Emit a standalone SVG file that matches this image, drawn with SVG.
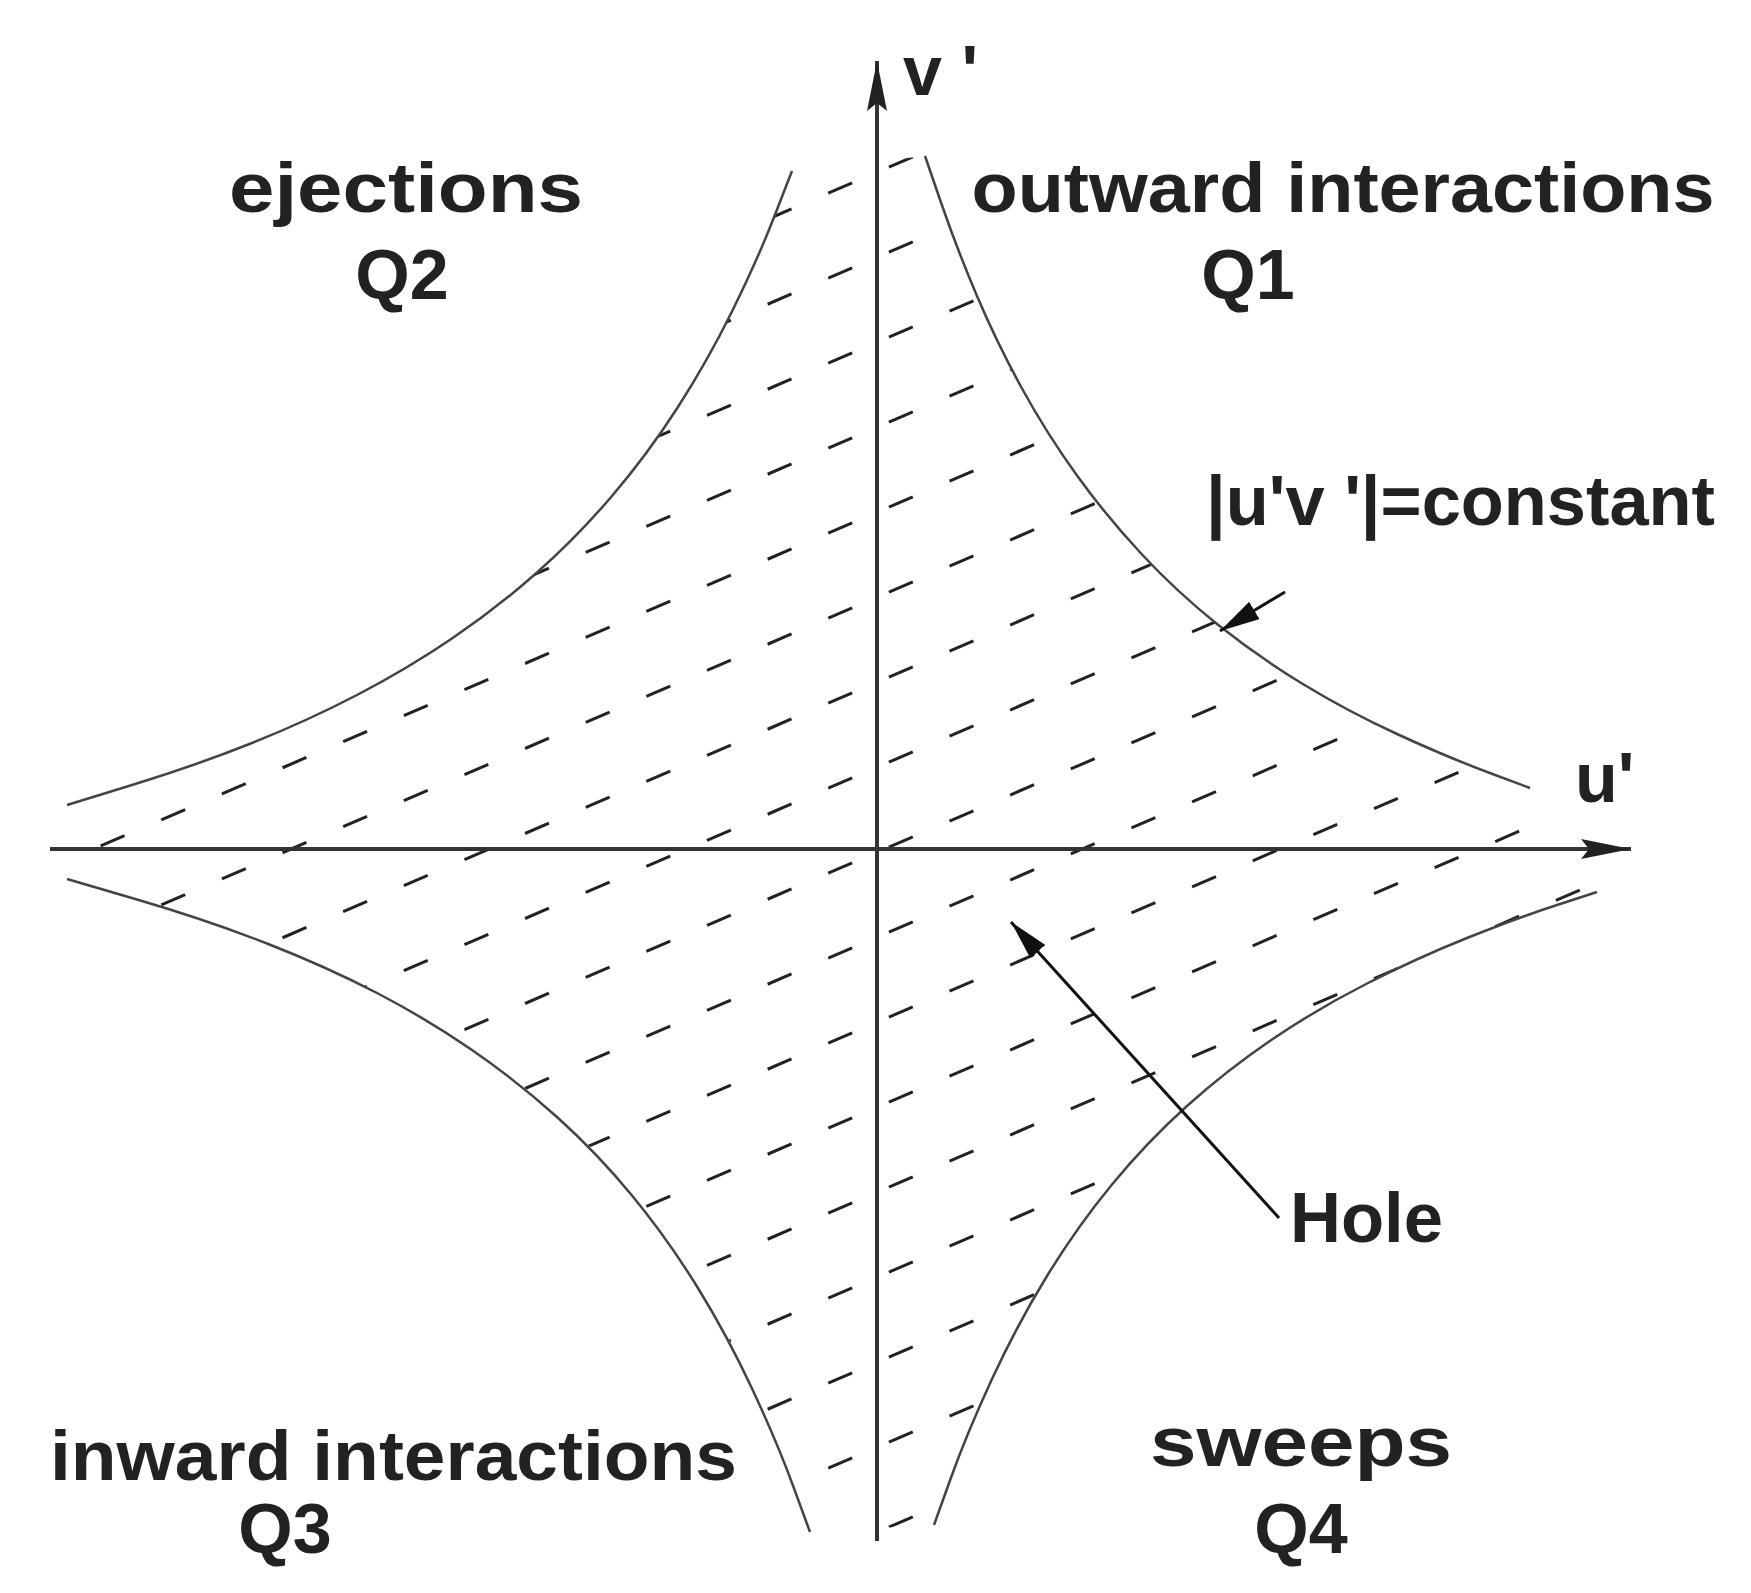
<svg xmlns="http://www.w3.org/2000/svg" width="1751" height="1593" viewBox="0 0 1751 1593">
<style>
.t{font-family:"Liberation Sans",Arial,sans-serif;font-weight:bold;font-size:70px;fill:#222}
.c{fill:none;stroke:#444;stroke-width:2.5;stroke-linejoin:round}
.d{stroke:#222;stroke-width:3;stroke-dasharray:26 40}
.ax{stroke:#333;stroke-width:4}
</style>
<defs>
<marker id="ah" viewBox="0 0 50 20" refX="50" refY="10" markerWidth="50" markerHeight="20" markerUnits="userSpaceOnUse" orient="auto"><path d="M0,0 L50,10 L0,20 L8,10 Z" fill="#222"/></marker>
<marker id="sh" viewBox="0 0 40 20" refX="40" refY="10" markerWidth="40" markerHeight="20" markerUnits="userSpaceOnUse" orient="auto"><path d="M0,0 L40,10 L0,20 Z" fill="#111"/></marker>
<clipPath id="hole"><path d="M925,156 L957,249 997,343 1047,434 1107,517 1177,592 1257,656 1347,711 1447,757 1530,788 L1597,892 1517,918 1417,958 1317,1009 1227,1070 1147,1142 1077,1227 1017,1325 967,1433 934,1525 L810,1532 777,1442 727,1335 667,1238 597,1153 517,1081 427,1019 327,967 207,920 67,879 L67,805 197,765 307,721 407,669 497,608 577,537 647,455 707,362 757,261 792,171 Z"/></clipPath>
</defs>
<rect width="1751" height="1593" fill="#fff"/>
<g id="hatch" clip-path="url(#hole)">
<line class="d" x1="40" y1="532" x2="1650" y2="-160"/>
<line class="d" x1="40" y1="617" x2="1650" y2="-75"/>
<line class="d" x1="40" y1="702" x2="1650" y2="10"/>
<line class="d" x1="40" y1="787" x2="1650" y2="95"/>
<line class="d" x1="40" y1="872" x2="1650" y2="180"/>
<line class="d" x1="40" y1="957" x2="1650" y2="265"/>
<line class="d" x1="40" y1="1042" x2="1650" y2="350"/>
<line class="d" x1="40" y1="1127" x2="1650" y2="435"/>
<line class="d" x1="40" y1="1212" x2="1650" y2="520"/>
<line class="d" x1="40" y1="1297" x2="1650" y2="605"/>
<line class="d" x1="40" y1="1382" x2="1650" y2="690"/>
<line class="d" x1="40" y1="1467" x2="1650" y2="775"/>
<line class="d" x1="40" y1="1552" x2="1650" y2="860"/>
<line class="d" x1="40" y1="1637" x2="1650" y2="945"/>
<line class="d" x1="40" y1="1722" x2="1650" y2="1030"/>
<line class="d" x1="40" y1="1807" x2="1650" y2="1115"/>
<line class="d" x1="40" y1="1892" x2="1650" y2="1200"/>
<line class="d" x1="40" y1="1977" x2="1650" y2="1285"/>
<line class="d" x1="40" y1="2062" x2="1650" y2="1370"/>
<line class="d" x1="40" y1="2147" x2="1650" y2="1455"/>
</g>
<g id="curves">
<path class="c" d="M925,156 L941,202.5 Q957,249 977,296 Q997,343 1022,388.5 Q1047,434 1077,475.5 Q1107,517 1142,554.5 Q1177,592 1217,624 Q1257,656 1302,683.5 Q1347,711 1397,734 Q1447,757 1488.5,772.5 L1530,788"/>
<path class="c" d="M792,171 L774.5,216 Q757,261 732,311.5 Q707,362 677,408.5 Q647,455 612,496 Q577,537 537,572.5 Q497,608 452,638.5 Q407,669 357,695 Q307,721 252,743 Q197,765 132,785 L67,805"/>
<path class="c" d="M810,1532 L793.5,1487 Q777,1442 752,1388.5 Q727,1335 697,1286.5 Q667,1238 632,1195.5 Q597,1153 557,1117 Q517,1081 472,1050 Q427,1019 377,993 Q327,967 267,943.5 Q207,920 137,899.5 L67,879"/>
<path class="c" d="M934,1525 L950.5,1479 Q967,1433 992,1379 Q1017,1325 1047,1276 Q1077,1227 1112,1184.5 Q1147,1142 1187,1106 Q1227,1070 1272,1039.5 Q1317,1009 1367,983.5 Q1417,958 1467,938 Q1517,918 1557,905 L1597,892"/>
</g>
<g id="axes">
<line class="ax" x1="877" y1="1541" x2="877" y2="61" marker-end="url(#ah)"/>
<line class="ax" x1="50" y1="849" x2="1631" y2="849" marker-end="url(#ah)"/>
</g>
<g id="connectors">
<line x1="1279" y1="1218" x2="1011" y2="922" stroke="#111" stroke-width="3" marker-end="url(#sh)"/>
<line x1="1285" y1="592" x2="1220" y2="631" stroke="#111" stroke-width="3" marker-end="url(#sh)"/>
</g>
<g id="labels">
<text class="t" x="406" y="212" text-anchor="middle" textLength="354" lengthAdjust="spacingAndGlyphs">ejections</text>
<text class="t" x="402" y="299" text-anchor="middle">Q2</text>
<text class="t" x="1343" y="212" text-anchor="middle" textLength="743" lengthAdjust="spacingAndGlyphs">outward interactions</text>
<text class="t" x="1248" y="299" text-anchor="middle">Q1</text>
<text class="t" x="1206" y="525" textLength="509" lengthAdjust="spacingAndGlyphs">|u'v '|=constant</text>
<text class="t" x="1575" y="802">u'</text>
<text class="t" x="903" y="95">v '</text>
<text class="t" x="1290" y="1242" textLength="153" lengthAdjust="spacingAndGlyphs">Hole</text>
<text class="t" x="50" y="1480" textLength="687" lengthAdjust="spacingAndGlyphs">inward interactions</text>
<text class="t" x="285" y="1553" text-anchor="middle">Q3</text>
<text class="t" x="1301" y="1466" text-anchor="middle" textLength="302" lengthAdjust="spacingAndGlyphs">sweeps</text>
<text class="t" x="1301" y="1553" text-anchor="middle">Q4</text>
</g>
</svg>
